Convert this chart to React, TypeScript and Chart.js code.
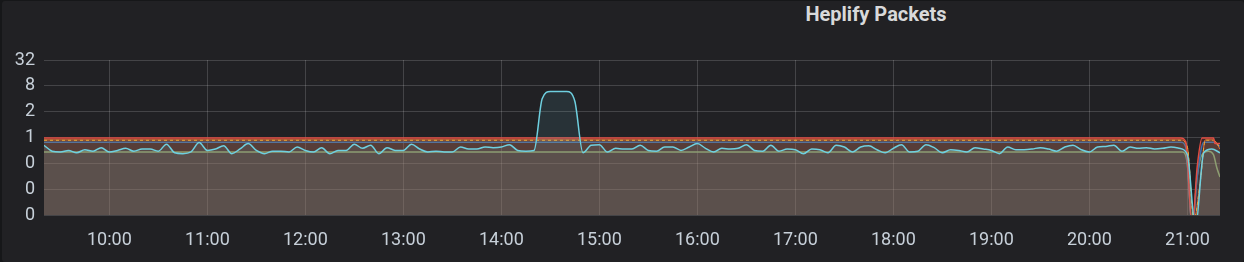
import React, { useEffect, useRef } from 'react';
import { Chart, registerables } from 'chart.js';

Chart.register(...registerables);

// time axis in minutes since midnight
const START = 560; // 09:20
const END = 1280; // 21:20
const STEP = 5;

const xTickValues = [600, 660, 720, 780, 840, 900, 960, 1020, 1080, 1140, 1200, 1260];
const xTickLabels = ['10:00', '11:00', '12:00', '13:00', '14:00', '15:00', '16:00', '17:00', '18:00', '19:00', '20:00', '21:00'];

const yTickValues = [32, 8, 2, 0.5, 0.125, 0.03125, 0.0078125];
const yTickLabels = ['32', '8', '2', '1', '0', '0', '0'];

// cyan series, one value every 5 minutes from 09:20
const cyanValues = [
  0.33, 0.24, 0.23, 0.25, 0.22, 0.26, 0.24, 0.29, 0.23, 0.25, 0.28, 0.24, 0.27, 0.27, 0.24, 0.35, 0.22, 0.21, 0.23, 0.38, 0.25, 0.27, 0.32, 0.21, 0.27,
  0.36, 0.25, 0.21, 0.24, 0.24, 0.23, 0.30, 0.25, 0.23, 0.29, 0.21, 0.25, 0.25, 0.35, 0.28, 0.33, 0.21, 0.29, 0.25, 0.25, 0.35, 0.27, 0.23,
  0.24, 0.23, 0.23, 0.30, 0.27, 0.27, 0.30, 0.29, 0.30, 0.34, 0.25, 0.24, 0.25,
  4.0, 5.9, 5.9, 5.9, 3.5,
  0.22, 0.33, 0.34, 0.23, 0.28, 0.27, 0.27,
  0.33, 0.25, 0.24, 0.30, 0.30, 0.25, 0.30, 0.36, 0.28, 0.23, 0.28, 0.27, 0.28, 0.34, 0.25, 0.24, 0.33, 0.24, 0.27, 0.26, 0.21, 0.27, 0.26, 0.22,
  0.33, 0.30, 0.23, 0.30, 0.32, 0.26, 0.22, 0.28, 0.34, 0.23, 0.24, 0.34, 0.29, 0.22, 0.26, 0.25, 0.23, 0.29, 0.27, 0.25, 0.21, 0.30, 0.26, 0.26,
  0.27, 0.29, 0.27, 0.24, 0.30, 0.33, 0.26, 0.23, 0.30, 0.31, 0.33, 0.24, 0.30, 0.28, 0.29, 0.27, 0.28, 0.30, 0.28,
  0.2, 0.004, 0.22, 0.27, 0.22,
];

const redTimes = [560, 1256, 1259, 1263, 1266, 1269, 1276, 1277, 1280];
const redValues = [0.49, 0.49, 0.4, 0.004, 0.1, 0.49, 0.49, 0.36, 0.36];

const orangeTimes = [560, 1256, 1260, 1264, 1268, 1271, 1276, 1280];
const orangeValues = [0.44, 0.44, 0.3, 0.006, 0.05, 0.44, 0.44, 0.27];

const yellowTimes = [560, 1256, 1260, 1264, 1268, 1271, 1276, 1280];
const yellowValues = [0.43, 0.43, 0.3, 0.006, 0.05, 0.43, 0.43, 0.29];

const blueTimes = [560, 1256, 1259, 1263, 1266, 1270, 1276, 1280];
const blueValues = [0.39, 0.39, 0.3, 0.004, 0.06, 0.39, 0.39, 0.31];

const greenTimes = [560, 1257, 1260, 1263, 1266, 1269, 1273, 1276, 1278, 1280];
const greenValues = [0.23, 0.23, 0.12, 0.004, 0.06, 0.2, 0.24, 0.2, 0.1, 0.06];

const pts = (t: number[], v: number[]) => t.map((x, i) => ({ x, y: v[i] }));

function rgba(hex: string, a: number) {
  const n = parseInt(hex.slice(1), 16);
  return `rgba(${(n >> 16) & 255},${(n >> 8) & 255},${n & 255},${a})`;
}

export default function App() {
  const ref = useRef<HTMLCanvasElement>(null);

  useEffect(() => {
    document.body.style.margin = '0';
    const ctx = ref.current!;
    const mk = (label: string, color: string, fillAlpha: number, data: any[], extra: any = {}) => ({
      label,
      data,
      borderColor: color,
      backgroundColor: rgba(color, fillAlpha),
      borderWidth: 1.5,
      pointRadius: 0,
      fill: 'start',
      cubicInterpolationMode: 'monotone',
      ...extra,
    });
    const cyanData = cyanValues.map((y, i) => ({ x: START + i * STEP, y }));
    const chart = new Chart(ctx, {
      type: 'line',
      data: {
        datasets: [
          mk('cyan', '#6ED0E0', 0.1, cyanData),
          mk('red', '#E24D42', 0.15, pts(redTimes, redValues)),
          mk('yellow', '#EAB839', 0.06, pts(yellowTimes, yellowValues), { borderDash: [3, 3], borderWidth: 1 }),
          mk('orange', '#EF843C', 0.1, pts(orangeTimes, orangeValues), { borderWidth: 1 }),
          mk('blue', '#1F78C1', 0.13, pts(blueTimes, blueValues)),
          mk('green', '#7EB26D', 0.06, pts(greenTimes, greenValues)),
        ] as any,
      },
      options: {
        animation: false,
        responsive: false,
        maintainAspectRatio: false,
        layout: { padding: { left: 0, right: 24, top: 60, bottom: 0 } },
        plugins: { legend: { display: false }, tooltip: { enabled: false } },
        scales: {
          x: {
            type: 'linear',
            min: START,
            max: END,
            afterBuildTicks: (s: any) => {
              s.ticks = xTickValues.map((value) => ({ value }));
            },
            afterFit: (s: any) => {
              s.height = 47;
            },
            ticks: {
              autoSkip: false,
              maxRotation: 0,
              padding: 15,
              color: '#c7d0d9',
              font: { family: 'Roboto', size: 18 },
              callback: (v: any) => xTickLabels[xTickValues.indexOf(Number(v))] ?? '',
            },
            grid: { color: 'rgba(255,255,255,0.16)', drawTicks: false },
            border: { display: false },
          },
          y: {
            type: 'logarithmic',
            min: yTickValues[yTickValues.length - 1],
            max: yTickValues[0],
            afterBuildTicks: (s: any) => {
              s.ticks = yTickValues.map((value) => ({ value }));
            },
            afterFit: (s: any) => {
              s.width = 44;
            },
            ticks: {
              padding: 9,
              color: '#c7d0d9',
              font: { family: 'Roboto', size: 18 },
              callback: (v: any, i: number) => yTickLabels[i] ?? '',
            },
            grid: { color: 'rgba(255,255,255,0.16)', drawTicks: false },
            border: { display: false },
          },
        },
      } as any,
    });
    return () => chart.destroy();
  }, []);

  return (
    <div style={{ position: 'fixed', left: 0, top: 0, width: 1244, height: 262, background: '#161719' }}>
      <div style={{ position: 'absolute', left: 2, top: 1, right: 0, bottom: 0, background: '#212124', borderRadius: 3 }} />
      <div
        style={{
          position: 'absolute',
          left: 676,
          width: 400,
          top: 2,
          textAlign: 'center',
          fontFamily: 'Roboto',
          fontWeight: 700,
          fontSize: 20,
          color: '#d8d9da',
        }}
      >
        Heplify Packets
      </div>
      <canvas ref={ref} width={1244} height={262} style={{ position: 'absolute', left: 0, top: 0, width: 1244, height: 262 }} />
    </div>
  );
}
